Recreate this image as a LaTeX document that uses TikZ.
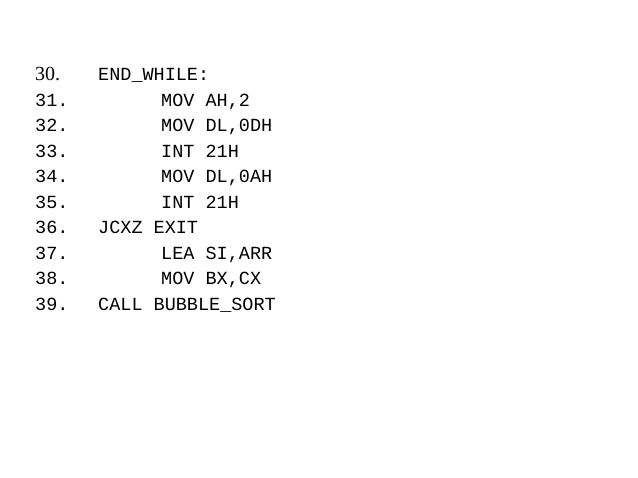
\documentclass[tikz,border=0pt]{standalone}
\usepackage{fontspec}
\setmainfont{Liberation Serif}
\setmonofont{Liberation Mono}
\begin{document}
\begin{tikzpicture}[x=1pt,y=-1pt,
  code/.style={anchor=base west,inner sep=0pt,font=\fontsize{18.5}{20}\ttfamily},
  num/.style={anchor=base west,inner sep=0pt,font=\fontsize{18.5}{20}\ttfamily}]
\useasboundingbox[fill=white] (0,0) rectangle (638,478);
\node[anchor=base west,inner sep=0pt,font=\fontsize{20}{22}\selectfont] (n30) at (35,81) {30.};
\node[code] (c30) at (98,81) {END\_WHILE:};
\foreach \i/\n/\x/\t in {1/31/161/{MOV AH,2},2/32/161/{MOV DL,0DH},3/33/161/{INT 21H},4/34/161/{MOV DL,0AH},5/35/161/{INT 21H},6/36/98/{JCXZ EXIT},7/37/161/{LEA SI,ARR},8/38/161/{MOV BX,CX},9/39/98/{CALL BUBBLE\_SORT}}{
  \node[num] (n\n) at (35,81+25.5*\i) {\n.};
  \node[code] (c\n) at (\x,81+25.5*\i) {\t};
}
\end{tikzpicture}
\end{document}
